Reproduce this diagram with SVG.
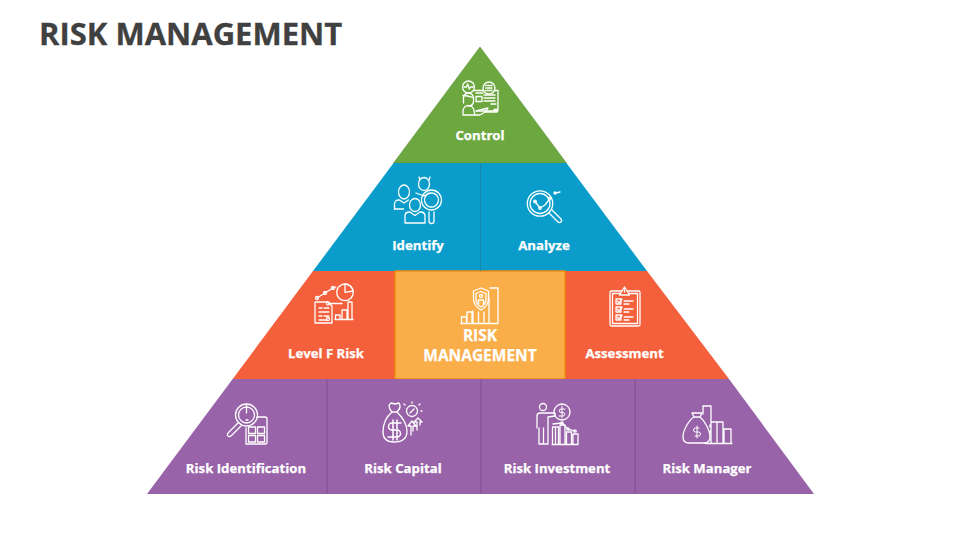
<svg xmlns="http://www.w3.org/2000/svg" width="960" height="540" viewBox="0 0 960 540">
<style>
text{font-family:"Open Sans","Noto Sans","Liberation Sans",sans-serif;font-weight:700;fill:#fff;stroke:#fff;stroke-width:.25;text-anchor:middle;font-size:13.2px}
.title{fill:#404040;stroke:#404040;stroke-width:.3;font-size:31px;text-anchor:start}
.big{font-size:15.5px}
.ic{fill:none;stroke:#fff;stroke-width:1.3;stroke-linejoin:round;stroke-linecap:round}
.div{stroke-width:.8;fill:none}
</style>
<rect width="960" height="540" fill="#fff"/>
<text class="title" x="39" y="45">RISK MANAGEMENT</text>
<g id="control">
<polygon points="480,47 393.600,163 566.400,163" fill="#6ca83f" stroke="#5d9136" stroke-width="0.6"/>
<g class="ic">
<circle cx="468.500" cy="87" r="6"/><path d="M464 87h2.500l1.200-3 1.600 5 1.200-2h3"/>
<circle cx="489" cy="88" r="6"/><path d="M487 85.500h5M487 88h5M487 90.500h5M485.500 85.500h.2M485.500 88h.2M485.500 90.500h.2"/>
<path d="M474 90.500h9M495 90.500h3v19h-4M477 111h21"/>
<path d="M476 93h7"/>
<rect x="476" y="96.500" width="6" height="5"/><path d="M484 95h11M484 98h11M484 101h11M491 104h5"/>
<path d="M463.500 103v-5a5 5 0 0 1 10 0v4a5 5 0 0 1-5 4"/><path d="M463 95.500c3 0 6 .5 10 2"/>
<path d="M463 115v-4a5.500 5.500 0 0 1 11 0l1 4z"/><path d="M475 115h5l5-3 3-4-8 2-4 1"/><path d="M485 112h12"/>
</g>
<text x="480" y="139.700">Control</text>
</g>
<g id="identify">
<polygon points="393.600,163 480.500,163 480.500,271 313,271" fill="#0a9dcb"/>
<g class="ic">
<ellipse cx="404" cy="192" rx="5.500" ry="7"/><path d="M394.500 209v-5a4 4 0 0 1 4-4h1l4.500 3 4.500-3"/><path d="M394.500 209h9"/>
<ellipse cx="424" cy="184" rx="5.500" ry="6.500"/><path d="M419 177l1 3M430 177l-1 3M416 193l8 3 5-3"/>
<ellipse cx="415" cy="205" rx="5.500" ry="6.500"/><path d="M405 223v-8a4 4 0 0 1 4-3h1l5 3.500 5-3.500h1a4 4 0 0 1 4 3v8z"/>
<circle cx="431.500" cy="200" r="10"/><circle cx="431.500" cy="200" r="7"/><path d="M429 212v9a2.500 2.500 0 0 0 5 0v-9"/>
</g>
<text x="418" y="249.700">Identify</text>
</g>
<g id="analyze">
<polygon points="480.500,163 566.400,163 647,271 480.500,271" fill="#0a9dcb"/>
<g class="ic">
<circle cx="540" cy="203.500" r="12.700"/><circle cx="540" cy="203.500" r="10"/>
<path d="M535 201.500l5 6.500 5-3 5-6.500"/><circle cx="535" cy="201.500" r="1.300"/><circle cx="540" cy="208" r="1.300"/><circle cx="549.500" cy="198.500" r="1.300"/>
<path d="M549 213l9 9a2 2 0 0 0 3-3l-9-9"/><circle cx="555" cy="193" r="1"/><path d="M556 193l4-1"/>
</g>
<text x="544" y="249.700">Analyze</text>
</g>
<g id="level-f-risk">
<polygon points="313,271 395,271 395,379 232.700,379" fill="#f45f3c"/>
<g class="ic">
<path d="M317 298l8-5 8-5 3-1"/><circle cx="317" cy="298" r="1.500"/><circle cx="325" cy="293" r="1.500"/><circle cx="333" cy="288" r="1.500"/><circle cx="328" cy="319" r="1.500"/><circle cx="328" cy="303.500" r="1.500"/>
<circle cx="345" cy="292.300" r="8.300"/><path d="M345 292.300v-8.300a8.300 8.300 0 0 1 8 7z"/>
<path d="M315 302h13l4 4v17h-17zM319 308h3M324 308h5M319 312h10M319 316h3M324 316h5M319 320h8"/>
<path d="M335 319.500h18M335.500 319v-4h4.500v4M342 319v-9h5v9M348 319v-17h4v17M329 303.500h13"/>
</g>
<text x="326" y="357.700">Level F Risk</text>
</g>
<g id="assessment">
<polygon points="565,271 647,271 729,379 565,379" fill="#f45f3c"/>
<g class="ic">
<rect x="610" y="291" width="30" height="35" rx="1.500"/><rect x="612.500" y="293.500" width="25" height="30"/>
<path d="M624.500 287l5 8h-10z" fill="#f45f3c"/><path d="M624.500 290v2"/>
<rect x="616" y="299" width="5" height="5"/><rect x="616" y="307" width="5" height="5"/><rect x="616" y="315" width="5" height="5"/>
<path d="M617 301l2 2 3-4M617 309l2 2 3-4M617 317l2 2 3-4M624 301h9M624 304h5M624 309h9M624 312h5M624 317h9M624 320h5"/>
</g>
<text x="624.500" y="357.700">Assessment</text>
</g>
<g id="risk-management">
<rect x="395" y="271" width="170" height="108" fill="#f9ae4a" stroke="#f08c10" stroke-width="1.500"/>
<g class="ic">
<path d="M481 288l7.500 3v8c0 6-4 9-7.500 11-3.500-2-7.500-5-7.500-11v-8z"/><path d="M481 291.500l5 2v5.500c0 4-2.500 6.500-5 8-2.500-1.500-5-4-5-8v-5.500z"/>
<circle cx="481" cy="296" r="1.500"/><path d="M478.500 304v-4h5v4"/>
<path d="M461.500 323v-6h5v6M467 323v-11h5v11M473 323v-12M478.500 323v-11M484 323v-11M489 323v-25M490 288h8v35M461 323.500h37"/>
</g>
<text class="big" x="480" y="341">RISK</text>
<text class="big" x="480" y="361">MANAGEMENT</text>
</g>
<g id="risk-identification">
<polygon points="232.700,379 327,379 327,494 147,494" fill="#9863a8"/>
<g class="ic">
<circle cx="246.500" cy="415" r="11"/><circle cx="246.500" cy="415" r="8"/><path d="M246.500 405v8M246 420h2"/>
<path d="M238 423l-10 10a2 2 0 0 0 3 3l10-10"/>
<path d="M257 417h8a2 2 0 0 1 2 2v23a2 2 0 0 1-2 2h-19v-16"/><rect x="248.500" y="427" width="7" height="6.500"/><rect x="257.500" y="427" width="7" height="6.500"/><rect x="248.500" y="435.500" width="7" height="6.500"/><rect x="257.500" y="435.500" width="7" height="6.500"/>
</g>
<text x="246" y="472.700">Risk Identification</text>
</g>
<g id="risk-capital">
<polygon points="327,379 481,379 481,494 327,494" fill="#9863a8"/>
<g class="ic">
<path d="M392 412c-3-3-4-7-1-9l4 1 4-1c2 3 1 6-2 9zM392 412c-6 5-9 12-9 20 0 7 4 10 11 10s13-3 13-11c0-7-5-14-10-19"/>
<path d="M401 423h-9a3 3 0 0 0 0 7h5a3 3 0 0 1 0 7h-9M393 420v20M397 420v20" stroke-width="1.500"/>
<circle cx="412" cy="411" r="5.500"/><path d="M410 413l4-4"/><path d="M412 402v1M404 404l1 1M420 404l-1 1M422 411h-1"/>
<path d="M411 435v-9h-3l4-5 4 5h-3v5M417 430v-8h-3l4-4 4 4h-2v3"/>
</g>
<text x="403" y="472.700">Risk Capital</text>
</g>
<g id="risk-investment">
<polygon points="481,379 635,379 635,494 481,494" fill="#9863a8"/>
<g class="ic">
<circle cx="543" cy="407" r="3.500"/><path d="M537 428v-12a3 3 0 0 1 3-3h15v3l-7 1v27h-9v-16M543.500 428v16"/>
<circle cx="562" cy="412" r="8"/><path d="M565 409h-4a1.500 1.500 0 0 0 0 3.500h2a1.500 1.500 0 0 1 0 3.500h-4M562 406v12" stroke-width="1"/>
<path d="M553 424l9-1 6 6 7 2"/><circle cx="562" cy="423" r="1.200"/><circle cx="568" cy="429" r="1.200"/><circle cx="575" cy="431" r="1.200"/>
<path d="M552 444.500h26M552.500 444v-17h6v17M555.500 444v-17M560 444v-19h5v19M566.500 444v-12h5v12M573 444v-10h5v10"/>
</g>
<text x="557" y="472.700">Risk Investment</text>
</g>
<g id="risk-manager">
<polygon points="635,379 729,379 814,494 635,494" fill="#9863a8"/>
<g class="ic">
<path d="M692 413h10l-2 4h-6zM694 417c-5 3-11 13-11 20 0 4 2 6 6 6h15c4 0 6-2 6-6 0-7-6-17-10-20"/>
<path d="M699 428h-3.500a2 2 0 0 0 0 4h3a2 2 0 0 1 0 4h-3.500M697 426v12" stroke-width="1"/>
<path d="M703 414v-8h8v37M717 443v-21h6v21M724 443v-14h7v14M705 443.500h27M711 422h6M723 429h1M710 425v2M710 431v1"/>
</g>
<text x="707" y="472.700">Risk Manager</text>
</g>
<g id="connectors">
<path class="div" stroke="#0a7ca3" d="M480.500 163v108"/>
<path class="div" stroke="#7b4d89" d="M327 379v115M481 379v115M635 379v115"/>
</g>
</svg>
